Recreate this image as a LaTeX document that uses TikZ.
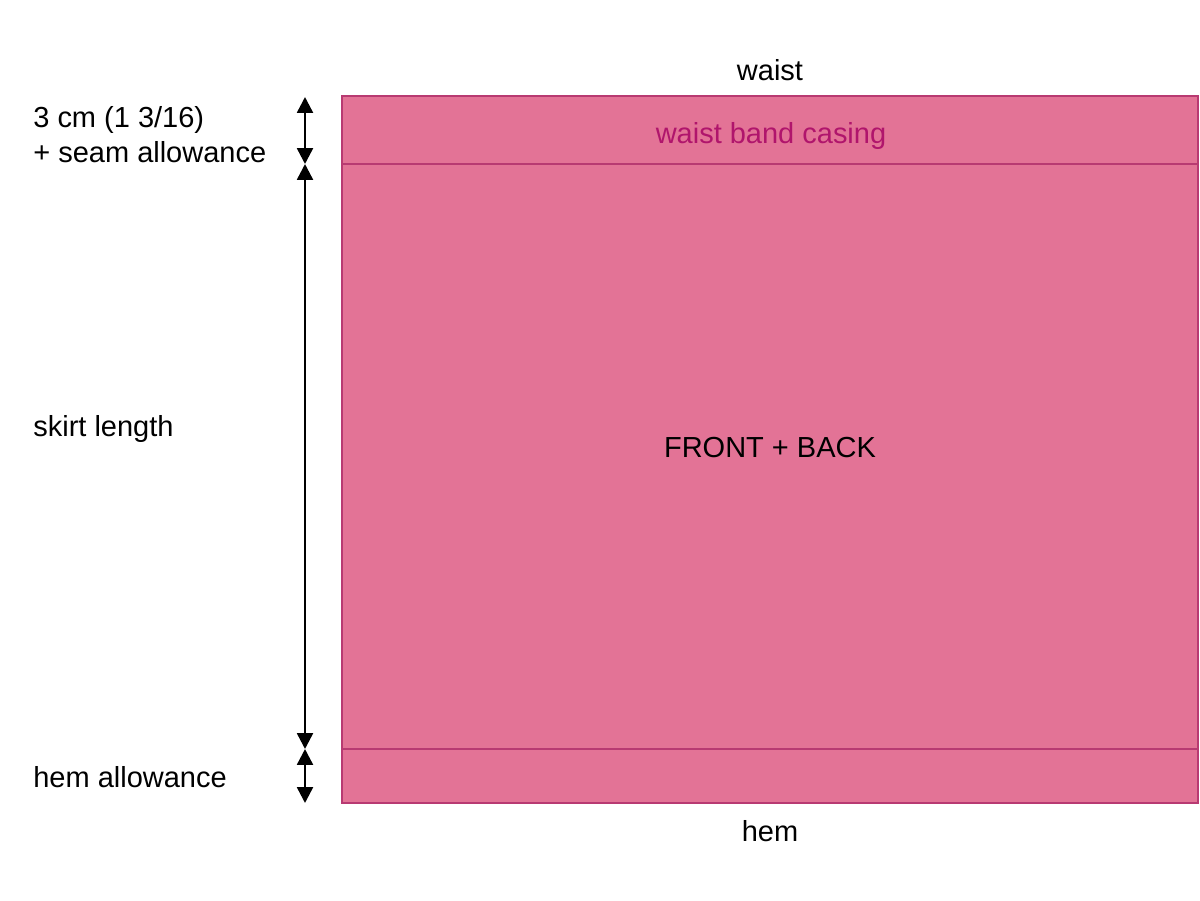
\documentclass[tikz,border=0pt]{standalone}
\usepackage{fontspec}
\setmainfont{Liberation Sans}
\usepackage{xcolor}
\usetikzlibrary{arrows.meta}

\definecolor{fabric}{HTML}{E37396}
\definecolor{seam}{HTML}{B83A72}
\definecolor{casingtext}{HTML}{B0156C}

\tikzset{
  measure/.style={line width=1.4pt, {Triangle[width=9pt,length=9pt]}-{Triangle[width=9pt,length=9pt]}},
  lbl/.style={font=\fontsize{16.5}{20}\selectfont, inner sep=0pt},
  side/.style={lbl, anchor=west, align=left}
}

\begin{document}
\begin{tikzpicture}[x=0.02cm,y=-0.02cm]
                \useasboundingbox (0,0) rectangle (1200,900);
                \draw[fill = fabric, draw = seam, line width=0.7pt] (342,96) -- (1198,96) -- (1198,803) -- (342,803) -- cycle;
                \draw[seam, line width=0.7pt] (342,164) -- (1198,164);
                \draw[seam, line width=0.7pt] (342,749) -- (1198,749);

                \node[lbl] (waist) at (770,70) {waist};
                \node[lbl] (hem) at (770,831) {hem};
                \node[lbl, text = casingtext] (casing) at (771,136) {waist band casing};
                \node[lbl] (body) at (770,448) {FRONT + BACK};

                \node[side] (bandlbl) at (33,135) {3 cm (1 3/16)\\+ seam allowance};
                \node[side] (lenlbl) at (33,429) {skirt length};
                \node[side] (hemlbl) at (33,777) {hem allowance};

                \coordinate (a0) at (305,97);
                \coordinate (a1) at (305,164);
                \coordinate (a2) at (305,749);
                \coordinate (a3) at (305,803);
                \draw[measure] (a0) -- (a1);
                \draw[measure] (a1) -- (a2);
                \draw[measure] (a2) -- (a3);
            \end{tikzpicture}
\end{document}
